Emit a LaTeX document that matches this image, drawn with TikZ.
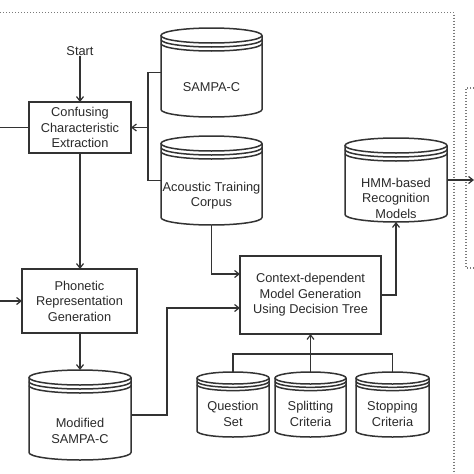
\documentclass[tikz,border=0pt]{standalone}
\usepackage{fontspec}
\setmainfont{Liberation Sans}
\usetikzlibrary{arrows.meta,calc}
\definecolor{ln}{HTML}{333333}
\definecolor{tx}{HTML}{2A2A2A}
\definecolor{dotc}{HTML}{7A7A7A}
\tikzset{
  conn/.style={draw=ln, line width=1.5pt},
  arr/.style={conn, -{Straight Barb[length=4.5pt,width=7pt,line width=1.2pt]}},
  procbox/.style={draw=ln, line width=1.5pt, rectangle, inner sep=0pt, outer sep=0pt, align=center, text=tx},
  cylbox/.style={draw=none, rectangle, inner sep=0pt, outer sep=0pt},
  cyl/.style={draw=ln, line width=1.5pt},
  lbl/.style={align=center, text=tx, inner sep=0pt},
  dotline/.style={draw=dotc, line width=1.1pt, dash pattern=on 1pt off 2pt},
}
\newcommand\mycyl[7]{%
  \node[cylbox, minimum width={(#3-#2)*1pt}, minimum height={(#5-#4)*1pt}] (#1) at ({(#2+#3)/2},{(#4+#5)/2}) {};
  \draw[cyl] ({(#2+#3)/2},{#4+#6}) ellipse [x radius={(#3-#2)/2}, y radius=#6];
  \draw[cyl] (#2,{#4+#6}) -- (#2,{#5-#6}) arc[start angle=180,end angle=0,x radius={(#3-#2)/2},y radius=#6] -- (#3,{#4+#6});
  \draw[cyl] (#2,{#4+#6+#7}) arc[start angle=180,end angle=0,x radius={(#3-#2)/2},y radius=#6];
  \draw[cyl] (#2,{#4+#6+2*#7}) arc[start angle=180,end angle=0,x radius={(#3-#2)/2},y radius=#6];
}
\begin{document}
\begin{tikzpicture}[x=1pt,y=-1pt, font=\fontsize{12.8}{15.5}\selectfont]
\useasboundingbox (0,0) rectangle (474,474);
\fill[white] (0,0) rectangle (474,474);

% dotted frames
\draw[dotline] (0,12.5) -- (454,12.5) -- (454,474);
\draw[dotline] (474,88) -- (466,88) -- (466,268) -- (474,268);

% process boxes
\node[lbl] (start) at (80,51) {Start};
\node[procbox, minimum width=102pt, minimum height=51pt] (conf) at (80,127.5) {Confusing\\Characteristic\\Extraction};
\node[procbox, minimum width=115pt, minimum height=64pt] (phon) at (79.5,301) {Phonetic\\Representation\\Generation};
\node[procbox, minimum width=141pt, minimum height=78pt] (ctx) at (310.5,295) {Context-dependent\\Model Generation\\Using Decision Tree};

% databases
\mycyl{sampa}{161}{262}{28}{117}{7.5}{4}
\node[lbl] (sampaT) at (211.5,87) {SAMPA-C};
\mycyl{acou}{161}{262}{136}{225}{7.5}{4}
\node[lbl] (acouT) at (211.5,195.5) {Acoustic Training\\Corpus};
\mycyl{hmm}{345}{447}{138}{222}{7.5}{4}
\node[lbl] (hmmT) at (396,198) {HMM-based\\Recognition\\Models};
\mycyl{modi}{29}{131}{370}{460}{7.5}{4}
\node[lbl] (modiT) at (80,431) {Modified\\SAMPA-C};
\mycyl{ques}{197}{269}{372}{437}{6}{3.3}
\node[lbl] (quesT) at (233,414) {Question\\Set};
\mycyl{split}{275}{346}{372}{437}{6}{3.3}
\node[lbl] (splitT) at (310.5,414) {Splitting\\Criteria};
\mycyl{stop}{356}{429}{372}{437}{6}{3.3}
\node[lbl] (stopT) at (392.5,414) {Stopping\\Criteria};

% helper coordinates
\coordinate (outL) at (0,127.5);
\coordinate (inL) at (0,301);
\coordinate (br) at (148,127.5);
\coordinate (m1) at (167,308);
\coordinate (bus) at (310.5,354);
\coordinate (outR) at (474,180);

% connectors
\draw[arr] (start) -- (conf.north);
\draw[conn] (conf.west) -- (outL);
\draw[arr] (inL) -- (phon.west);
\draw[arr] (conf.south) -- (conf.south |- phon.north);
\draw[arr] (phon.south -| modi.north) -- (modi.north);
\draw[conn] (sampa.west) -- (br |- sampa.west) -- (br |- acou.west) -- (acou.west);
\draw[arr] (br) -- (conf.east);
\draw[arr] (acou.south) |- ([yshift=21pt]ctx.west);
\draw[arr] (modi.east) -| (m1) -- (ctx.west |- m1);
\draw[arr] (ctx.east) -| (hmm.south);
\draw[arr] (hmm.east) -- (outR);
\draw[conn] (ques.north) -- (ques.north |- bus) -- (stop.north |- bus) -- (stop.north);
\draw[arr] (split.north) -- (ctx.south);
\end{tikzpicture}
\end{document}
